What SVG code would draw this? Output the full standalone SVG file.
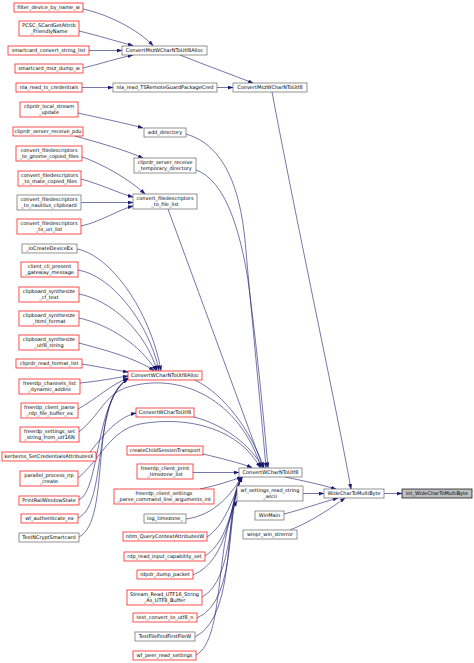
<svg xmlns="http://www.w3.org/2000/svg" width="474" height="663" viewBox="0 0 474 663">
<style>
text{font-family:"DejaVu Sans","Liberation Sans",sans-serif;font-size:5px;fill:#000;text-anchor:middle}
.r{fill:#fff;stroke:#ff0000;stroke-width:0.7}
.g{fill:#fff;stroke:#666;stroke-width:0.7}
.root{fill:#bfbfbf;stroke:#000;stroke-width:0.7}
#edges path{fill:none;stroke:#191970;stroke-width:0.6;marker-end:url(#ah)}
</style>
<defs>
<marker id="ah" markerUnits="userSpaceOnUse" markerWidth="6" markerHeight="4" refX="5" refY="1.75" orient="auto">
<path d="M0,0 L5,1.75 L0,3.5 z" fill="#191970" stroke="#191970" stroke-width="0.3"/>
</marker>
</defs>
<rect width="474" height="663" fill="#fff"/>
<g id="edges">
<path d="M83,9 C110,15 138,30 153,45.5"/>
<path d="M79,31 C100,36 115,41 133,45.5"/>
<path d="M89,50.5 L122,50.5"/>
<path d="M83,68 C100,64 118,58 133,55"/>
<path d="M180,55 C205,65 230,74 253,83"/>
<path d="M82,87.5 L113,87.5"/>
<path d="M217,87.5 L233,87.5"/>
<path d="M272,92 C300,240 335,400 351,489"/>
<path d="M78,113 C100,118 125,123 143,128"/>
<path d="M75,136 C100,143 125,150 143,158"/>
<path d="M80,156 C105,165 130,180 145,194"/>
<path d="M81,179 C100,184 118,193 133,197"/>
<path d="M81,202.5 L133,202.5"/>
<path d="M81,226 C100,222 118,210 133,206"/>
<path d="M186,134 C225,145 240,190 245,240 C252,320 260,400 266,467.5"/>
<path d="M196,170 C225,180 240,230 248,280 C256,340 263,410 268,467.5"/>
<path d="M168,209 L263,467.5"/>
<path d="M77,249 C110,255 150,310 161,370.5"/>
<path d="M78,270 C110,275 148,320 159,370.5"/>
<path d="M79,294 C110,300 145,330 157,370.5"/>
<path d="M79,318 C110,325 140,345 156,370.5"/>
<path d="M79,343 C105,350 135,358 154,370.5"/>
<path d="M82,364 C100,367 115,370 128,372"/>
<path d="M80,383 C100,381 115,378 128,376"/>
<path d="M78,409 C95,400 110,385 128,378"/>
<path d="M79,432 C100,415 105,395 125,388 C180,370 240,400 261,467.5"/>
<path d="M90,452 C100,440 115,418 136,413"/>
<path d="M78,478 C100,460 110,430 140,424 C190,415 240,430 260,467.5"/>
<path d="M79,500 C100,490 95,400 128,379"/>
<path d="M78,518 C108,505 92,400 128,379"/>
<path d="M79,537 C112,520 88,400 128,379"/>
<path d="M195,380 C225,395 250,430 264,467.5"/>
<path d="M194,417 C225,425 250,445 263,467.5"/>
<path d="M203,454 C220,458 240,463 252,467.5"/>
<path d="M193,472.5 L239,472.5"/>
<path d="M200,489 C215,486 230,481 242,477"/>
<path d="M186,519 C215,515 230,495 242,477"/>
<path d="M207,537 C225,525 232,500 242,477"/>
<path d="M205,556 C230,540 232,500 242,477"/>
<path d="M193,575 C230,560 230,500 242,477"/>
<path d="M202,597 C235,580 228,500 242,477"/>
<path d="M197,618 C240,600 225,500 242,477"/>
<path d="M195,637 C240,615 222,500 242,477"/>
<path d="M196,655 C225,640 215,540 237,501"/>
<path d="M285,477 C305,481 322,485 336,489"/>
<path d="M303,493.5 L324,493.5"/>
<path d="M284,514 C300,510 320,503 338,498"/>
<path d="M290,530 C315,520 335,505 345,498"/>
<path d="M384,493.5 L402,493.5"/>
</g>
<g id="n1"><rect class="r" x="14" y="3" width="69" height="9"/><text x="48.5" y="9.3">filter_device_by_name_w</text></g>
<g id="n2"><rect class="r" x="19" y="21" width="60" height="15"/><text x="49" y="27.4">PCSC_SCardGetAttrib</text><text x="49" y="33.2">_FriendlyName</text></g>
<g id="n3"><rect class="r" x="8" y="46" width="81" height="9"/><text x="48.5" y="52.3">smartcard_convert_string_list</text></g>
<g id="n4"><rect class="r" x="15" y="64" width="68" height="9"/><text x="49" y="70.3">smartcard_msz_dump_w</text></g>
<g id="n5"><rect class="r" x="16" y="83" width="66" height="9"/><text x="49" y="89.3">nla_read_ts_credentials</text></g>
<g id="n6"><rect class="r" x="20" y="102" width="58" height="15"/><text x="49" y="108.4">cliprdr_local_stream</text><text x="49" y="114.2">_update</text></g>
<g id="n7"><rect class="r" x="13" y="127" width="70" height="9"/><text x="48" y="133.3">cliprdr_server_receive_pdu</text></g>
<g id="n8"><rect class="r" x="16" y="146" width="66" height="15"/><text x="49" y="152.4">convert_filedescriptors</text><text x="49" y="158.2">_to_gnome_copied_files</text></g>
<g id="n9"><rect class="r" x="18" y="171" width="63" height="15"/><text x="49.5" y="177.4">convert_filedescriptors</text><text x="49.5" y="183.2">_to_mate_copied_files</text></g>
<g id="n10"><rect class="g" x="17" y="195" width="64" height="15"/><text x="49" y="201.4">convert_filedescriptors</text><text x="49" y="207.2">_to_nautilus_clipboard</text></g>
<g id="n11"><rect class="r" x="17" y="219" width="64" height="15"/><text x="49" y="225.4">convert_filedescriptors</text><text x="49" y="231.2">_to_uri_list</text></g>
<g id="n12"><rect class="g" x="22" y="244" width="55" height="9"/><text x="49.5" y="250.3">_IoCreateDeviceEx</text></g>
<g id="n13"><rect class="r" x="21" y="262" width="57" height="15"/><text x="49.5" y="268.4">client_cli_present</text><text x="49.5" y="274.2">_gateway_message</text></g>
<g id="n14"><rect class="r" x="19" y="287" width="60" height="15"/><text x="49" y="293.4">clipboard_synthesize</text><text x="49" y="299.2">_cf_text</text></g>
<g id="n15"><rect class="r" x="19" y="311" width="60" height="15"/><text x="49" y="317.4">clipboard_synthesize</text><text x="49" y="323.2">_html_format</text></g>
<g id="n16"><rect class="r" x="19" y="335" width="60" height="15"/><text x="49" y="341.4">clipboard_synthesize</text><text x="49" y="347.2">_utf8_string</text></g>
<g id="n17"><rect class="r" x="16" y="359" width="66" height="9"/><text x="49" y="365.3">cliprdr_read_format_list</text></g>
<g id="n18"><rect class="r" x="19" y="379" width="61" height="15"/><text x="49.5" y="385.4">freerdp_channels_list</text><text x="49.5" y="391.2">_dynamic_addins</text></g>
<g id="n19"><rect class="r" x="21" y="403" width="57" height="15"/><text x="49.5" y="409.4">freerdp_client_parse</text><text x="49.5" y="415.2">_rdp_file_buffer_ex</text></g>
<g id="n20"><rect class="r" x="20" y="427" width="59" height="15"/><text x="49.5" y="433.4">freerdp_settings_set</text><text x="49.5" y="439.2">_string_from_utf16N</text></g>
<g id="n21"><rect class="r" x="2" y="452" width="94" height="9"/><text x="49" y="458.3">kerberos_SetCredentialsAttributesX</text></g>
<g id="n22"><rect class="r" x="20" y="471" width="58" height="15"/><text x="49" y="477.4">parallel_process_irp</text><text x="49" y="483.2">_create</text></g>
<g id="n23"><rect class="r" x="19" y="496" width="60" height="9"/><text x="49" y="502.3">PrintRailWindowState</text></g>
<g id="n24"><rect class="r" x="21" y="514" width="57" height="9"/><text x="49.5" y="520.3">wf_authenticate_ex</text></g>
<g id="n25"><rect class="g" x="19" y="533" width="60" height="9"/><text x="49" y="539.3">TestNCryptSmartcard</text></g>
<g id="m1"><rect class="g" x="122" y="46" width="85" height="9"/><text x="164.5" y="52.3">ConvertMszWCharNToUtf8Alloc</text></g>
<g id="m2"><rect class="g" x="113" y="83" width="104" height="9"/><text x="165" y="89.3">nla_read_TSRemoteGuardPackageCred</text></g>
<g id="m3"><rect class="g" x="144" y="128" width="42" height="9"/><text x="165" y="134.3">add_directory</text></g>
<g id="m4"><rect class="g" x="134" y="158" width="62" height="15"/><text x="165" y="164.4">cliprdr_server_receive</text><text x="165" y="170.2">_temporary_directory</text></g>
<g id="m5"><rect class="g" x="133" y="194" width="64" height="15"/><text x="165" y="200.4">convert_filedescriptors</text><text x="165" y="206.2">_to_file_list</text></g>
<g id="m6"><rect class="r" x="128" y="371" width="74" height="9"/><text x="165" y="377.3">ConvertWCharNToUtf8Alloc</text></g>
<g id="m7"><rect class="r" x="136" y="408" width="58" height="9"/><text x="165" y="414.3">ConvertWCharToUtf8</text></g>
<g id="m8"><rect class="r" x="127" y="446" width="76" height="9"/><text x="165" y="452.3">createChildSessionTransport</text></g>
<g id="m9"><rect class="r" x="137" y="464" width="56" height="15"/><text x="165" y="470.4">freerdp_client_print</text><text x="165" y="476.2">_timezone_list</text></g>
<g id="m10"><rect class="r" x="114" y="489" width="100" height="15"/><text x="164" y="495.4">freerdp_client_settings</text><text x="164" y="501.2">_parse_command_line_arguments_int</text></g>
<g id="m11"><rect class="g" x="144" y="514" width="42" height="9"/><text x="165" y="520.3">log_timezone_</text></g>
<g id="m12"><rect class="r" x="123" y="532" width="84" height="9"/><text x="165" y="538.3">ntlm_QueryContextAttributesW</text></g>
<g id="m13"><rect class="r" x="124" y="552" width="81" height="9"/><text x="164.5" y="558.3">rdp_read_input_capability_set</text></g>
<g id="m14"><rect class="r" x="137" y="570" width="56" height="9"/><text x="165" y="576.3">rdpdr_dump_packet</text></g>
<g id="m15"><rect class="r" x="127" y="590" width="75" height="15"/><text x="164.5" y="596.4">Stream_Read_UTF16_String</text><text x="164.5" y="602.2">_As_UTF8_Buffer</text></g>
<g id="m16"><rect class="r" x="133" y="613" width="64" height="9"/><text x="165" y="619.3">test_convert_to_utf8_n</text></g>
<g id="m17"><rect class="g" x="135" y="632" width="60" height="9"/><text x="165" y="638.3">TestFileFindFirstFileW</text></g>
<g id="m18"><rect class="r" x="133" y="651" width="63" height="9"/><text x="164.5" y="657.3">wf_peer_read_settings</text></g>
<g id="r1"><rect class="g" x="233" y="83" width="74" height="9"/><text x="270" y="89.3">ConvertMszWCharNToUtf8</text></g>
<g id="r2"><rect class="g" x="239" y="468" width="63" height="9"/><text x="270.5" y="474.3">ConvertWCharNToUtf8</text></g>
<g id="r3"><rect class="g" x="237" y="486" width="66" height="15"/><text x="270" y="492.4">wf_settings_read_string</text><text x="270" y="498.2">_ascii</text></g>
<g id="r4"><rect class="g" x="255" y="511" width="29" height="9"/><text x="269.5" y="517.3">WinMain</text></g>
<g id="r5"><rect class="g" x="243" y="530" width="54" height="9"/><text x="270" y="536.3">winpr_win_strerror</text></g>
<g id="r6"><rect class="g" x="324" y="489" width="60" height="9"/><text x="354" y="495.3">WideCharToMultiByte</text></g>
<g id="r7"><rect class="root" x="402" y="489" width="70" height="9"/><text x="437" y="495.3">int_WideCharToMultiByte</text></g>
</svg>
